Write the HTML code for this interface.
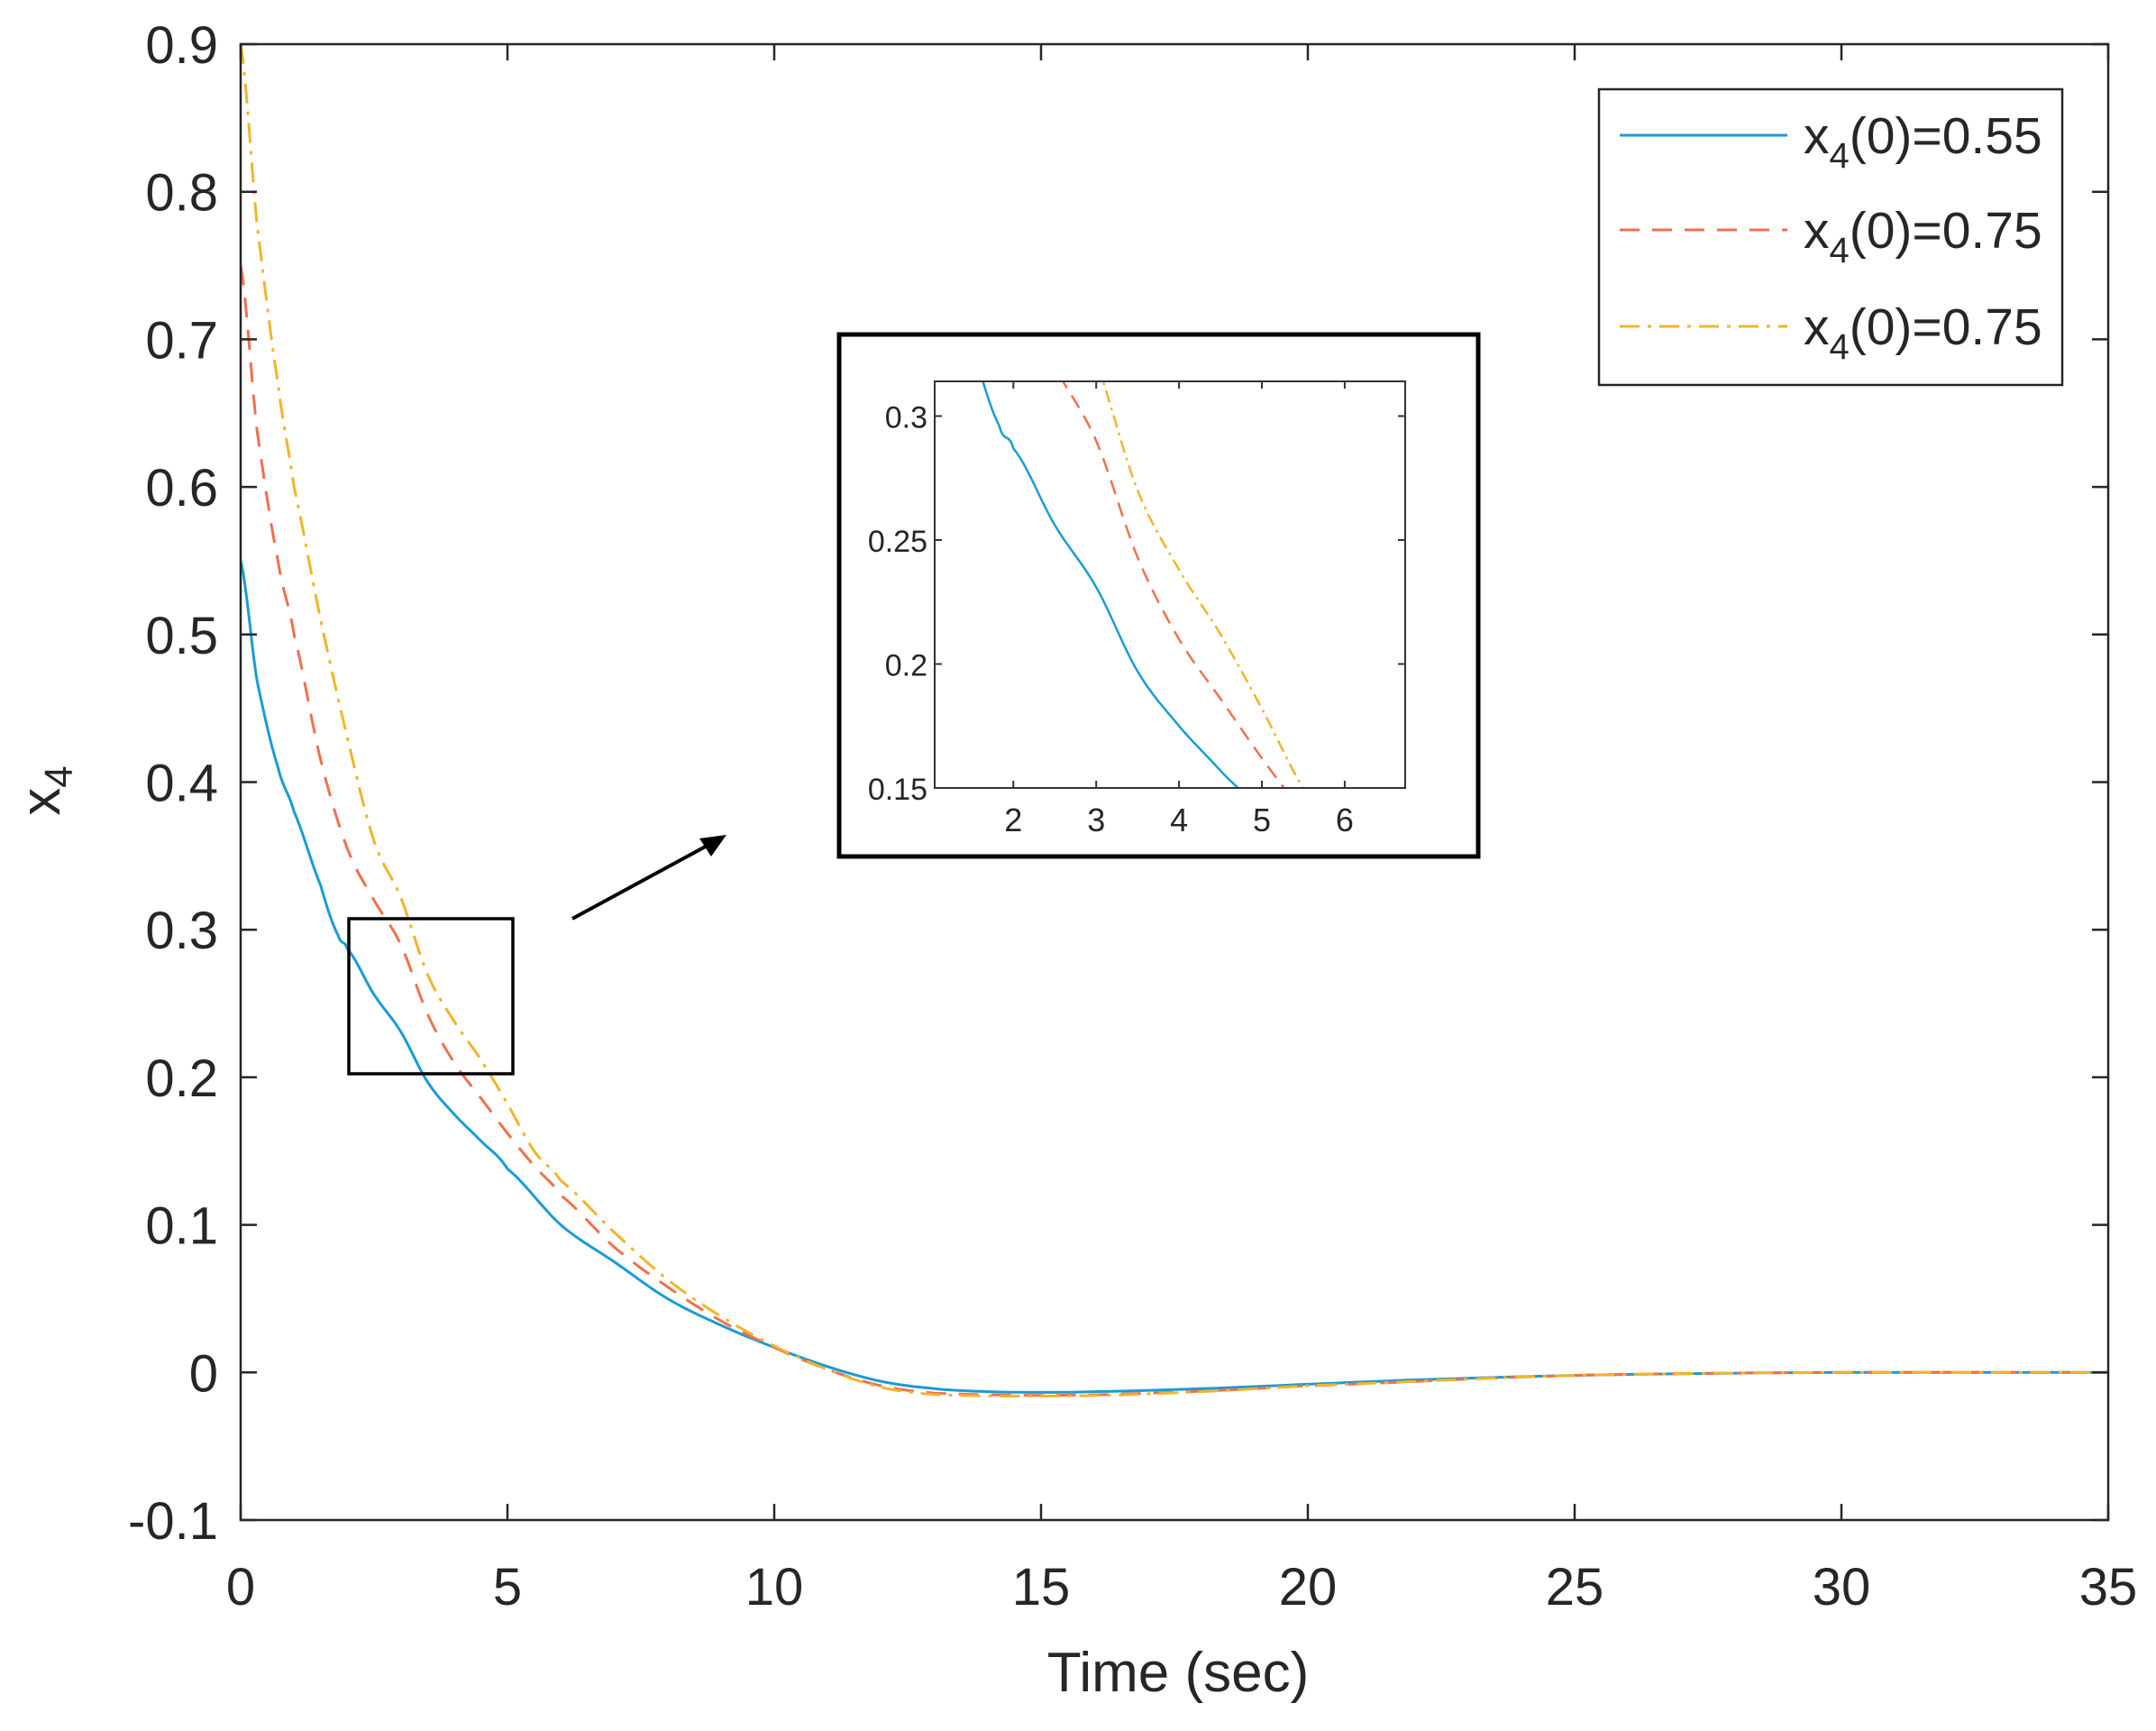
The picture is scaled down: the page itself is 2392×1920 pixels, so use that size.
<!DOCTYPE html>
<html><head><meta charset="utf-8"><style>
html,body{margin:0;padding:0;background:#fff}
svg{display:block}
text{font-family:"Liberation Sans",Arial,sans-serif;fill:#262626}
</style></head><body>
<svg id="s" width="2392" height="1920" viewBox="0 0 2392 1920" xmlns="http://www.w3.org/2000/svg">
<rect width="2392" height="1920" fill="#fff"/>
<g id="main"></g>
<g id="ins"></g>
</svg>
<script>
const NS="http://www.w3.org/2000/svg";
function el(p,t,a,txt){const e=document.createElementNS(NS,t);for(const k in a)e.setAttribute(k,a[k]);if(txt!==undefined)e.textContent=txt;p.appendChild(e);return e;}
const B=[[0,.55],[0.3,.47],[0.7,.41],[1,.38],[1.5,.33],[1.83,.296],[2,.287],[2.5,.256],[3,.231],[3.5,.197],[4,.175],[4.5,.157],[5,.138],[6,.1],[7,.075],[8,.05],[9,.032],[10,.017],[11,.004],[12,-.006],[13,-.011],[14,-.013],[15,-.0135],[16,-.013],[18,-.011],[20,-.008],[22,-.005],[25,-.002],[28,-.0005],[30,0],[35,0]];
const R=[[0,.75],[0.3,.64],[0.7,.55],[1,.5],[1.5,.415],[2,.355],[2.5,.32],[3,.29],[3.5,.243],[4,.21],[4.5,.186],[5,.162],[5.5,.14],[6,.12],[7,.085],[8,.058],[9,.035],[10,.017],[11,.002],[12,-.009],[13,-.014],[15,-.0155],[17,-.014],[20,-.009],[25,-.002],[30,0],[35,0]];
const Y=[[0,.9],[0.3,.78],[0.7,.67],[1,.6],[1.5,.51],[2,.43],[2.5,.36],[3,.322],[3.5,.27],[4,.238],[4.5,.212],[5,.182],[5.5,.15],[6,.13],[7,.095],[8,.063],[9,.038],[10,.018],[11,.002],[12,-.01],[13,-.015],[15,-.016],[17,-.0145],[20,-.009],[25,-.002],[30,0],[35,0]];
function dense(k){const out=[];for(let i=0;i<k.length-1;i++){const p0=k[Math.max(0,i-1)],p1=k[i],p2=k[i+1],p3=k[Math.min(k.length-1,i+2)];const n=12;for(let j=0;j<n;j++){const t=j/n,t2=t*t,t3=t2*t;const f=(a,b,c,d)=>0.5*((2*b)+(-a+c)*t+(2*a-5*b+4*c-d)*t2+(-a+3*b-3*c+d)*t3);out.push([p1[0]+(p2[0]-p1[0])*t,f(p0[1],p1[1],p2[1],p3[1])]);}}out.push(k[k.length-1]);return out;}
const series=[[B,'#1a9bd7',null],[R,'#f0704e','22 14'],[Y,'#f2b42a','22 9 4 9']];
const L=267,Rr=2339,T=49,Bo=1686;
const X=x=>L+(Rr-L)*x/35, Yv=y=>Bo-(Bo-T)*(y+0.1)/1.0;
const g=document.getElementById('main');
const c1=el(g,'clipPath',{id:'c1'});el(c1,'rect',{x:L,y:T-2,width:Rr-L,height:Bo-T+2});
for(const [k,c,d] of series){const pts=dense(k).map(p=>X(p[0]).toFixed(1)+','+Yv(p[1]).toFixed(1)).join(' ');const a={points:pts,fill:'none',stroke:c,'stroke-width':3,'clip-path':'url(#c1)'};if(d)a['stroke-dasharray']=d;el(g,'polyline',a);}
el(g,'rect',{x:L,y:T,width:Rr-L,height:Bo-T,fill:'none',stroke:'#262626','stroke-width':2.5});
for(let i=0;i<=7;i++){const x=X(i*5);el(g,'line',{x1:x,y1:Bo,x2:x,y2:Bo-18,stroke:'#262626','stroke-width':2.5});el(g,'line',{x1:x,y1:T,x2:x,y2:T+18,stroke:'#262626','stroke-width':2.5});el(g,'text',{x:x,y:1780,'font-size':58,'text-anchor':'middle'},String(i*5));}
for(let i=0;i<=10;i++){const v=-0.1+i*0.1;const y=Yv(v);el(g,'line',{x1:L,y1:y,x2:L+18,y2:y,stroke:'#262626','stroke-width':2.5});el(g,'line',{x1:Rr,y1:y,x2:Rr-18,y2:y,stroke:'#262626','stroke-width':2.5});let s=Math.abs(v)<1e-9?'0':v.toFixed(1);el(g,'text',{x:242,y:y+21,'font-size':58,'text-anchor':'end'},s);}
el(g,'text',{x:1307,y:1876,'font-size':62,'text-anchor':'middle'},'Time (sec)');
const yl=el(g,'text',{transform:'translate(66,877) rotate(-90)','font-size':62,'text-anchor':'middle'});
yl.innerHTML='x<tspan font-size="44" dy="14">4</tspan>';
el(g,'rect',{x:387,y:1019,width:182,height:172,fill:'none',stroke:'#000','stroke-width':3.5});
el(g,'line',{x1:635,y1:1019,x2:790,y2:935,stroke:'#000','stroke-width':4});
el(g,'polygon',{points:'806,926 776,930 789,950',fill:'#000'});
el(g,'rect',{x:1774,y:99,width:514,height:328,fill:'#fff',stroke:'#262626','stroke-width':2.5});
const ly=[150,255,362];
for(let i=0;i<3;i++){const [k,c,d]=series[i];const a={x1:1797,y1:ly[i],x2:1983,y2:ly[i],stroke:c,'stroke-width':3};if(d)a['stroke-dasharray']=d;el(g,'line',a);
const t=el(g,'text',{x:2001,y:ly[i]+20,'font-size':57});t.innerHTML='x<tspan font-size="40" dy="16">4</tspan><tspan dy="-16">(0)='+(i==0?'0.55':'0.75')+'</tspan>';}
const gi=document.getElementById('ins');
el(gi,'rect',{x:931,y:371,width:709,height:579,fill:'#fff',stroke:'#000','stroke-width':5});
const iL=1037,iR=1559,iT=423,iB=874,x0=1.05,x1=6.73,y0=0.15,y1=0.314;
const IX=x=>iL+(iR-iL)*(x-x0)/(x1-x0), IY=y=>iB-(iB-iT)*(y-y0)/(y1-y0);
const cp=el(gi,'clipPath',{id:'c2'});el(cp,'rect',{x:iL,y:iT,width:iR-iL,height:iB-iT});
for(const [k,c,d] of series){const pts=dense(k).filter(p=>p[0]<8).map(p=>IX(p[0]).toFixed(1)+','+IY(p[1]).toFixed(1)).join(' ');const a={points:pts,fill:'none',stroke:c,'stroke-width':2.5,'clip-path':'url(#c2)'};if(d)a['stroke-dasharray']='16 10';if(c=='#f2b42a')a['stroke-dasharray']='14 6 3 6';el(gi,'polyline',a);}
el(gi,'rect',{x:iL,y:iT,width:iR-iL,height:iB-iT,fill:'none',stroke:'#333','stroke-width':2});
for(let i=2;i<=6;i++){const x=IX(i);el(gi,'line',{x1:x,y1:iB,x2:x,y2:iB-8,stroke:'#333','stroke-width':2});el(gi,'line',{x1:x,y1:iT,x2:x,y2:iT+8,stroke:'#333','stroke-width':2});el(gi,'text',{x:x,y:iB+48,'font-size':36,'text-anchor':'middle'},String(i));}
for(const v of [0.15,0.2,0.25,0.3]){const y=IY(v);el(gi,'line',{x1:iL,y1:y,x2:iL+8,y2:y,stroke:'#333','stroke-width':2});el(gi,'line',{x1:iR,y1:y,x2:iR-8,y2:y,stroke:'#333','stroke-width':2});el(gi,'text',{x:iL-8,y:y+13,'font-size':34,'text-anchor':'end'},String(v));}
</script>
</body></html>
